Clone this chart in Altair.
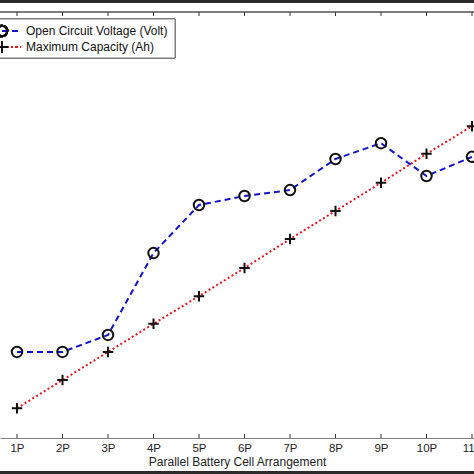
import altair as alt
import pandas as pd

# Categories (parallel cell arrangement)
arrangement = ["1P", "2P", "3P", "4P", "5P", "6P", "7P", "8P", "9P", "10P", "11P"]
# Values (normalised, no y axis visible in the crop)
open_circuit_voltage = [0.202, 0.202, 0.242, 0.434, 0.547, 0.568, 0.582, 0.655, 0.692, 0.615, 0.660]
maximum_capacity = [0.070, 0.136, 0.202, 0.268, 0.333, 0.399, 0.467, 0.533, 0.599, 0.667, 0.732]

idx = list(range(1, len(arrangement) + 1))
df_v = pd.DataFrame({"n": idx, "cat": arrangement, "value": open_circuit_voltage})
df_c = pd.DataFrame({"n": idx, "cat": arrangement, "value": maximum_capacity})
df_t = pd.DataFrame({"n": idx})

FONT = "Liberation Sans"
W, H = 474, 426

xscale = alt.Scale(domain=[1 - 17 / 45.5, 1 + 457 / 45.5], nice=False, zero=False)
yscale = alt.Scale(domain=[0, 1], nice=False, zero=False)

x_enc = alt.X("n:Q", scale=xscale,
              axis=alt.Axis(values=idx, labelExpr="datum.value + 'P'", ticks=False,
                            grid=False, domainColor="#7f7f7f", domainWidth=1,
                            labelFontSize=11.5, labelFont=FONT, labelColor="#222",
                            labelPadding=4, title="Parallel Battery Cell Arrangement",
                            titleFont=FONT, titleFontSize=12, titleFontWeight="normal",
                            titleColor="#222", titlePadding=3, labelFlush=False,
                            labelOverlap=False))
y_enc = alt.Y("value:Q", scale=yscale, axis=None)

line_v = alt.Chart(df_v).mark_line(color="#1212d0", strokeWidth=2, strokeDash=[6, 4], clip=False).encode(
    x=x_enc, y=y_enc)
line_c = alt.Chart(df_c).mark_line(color="#e8141e", strokeWidth=2, strokeDash=[2, 2.5], clip=False).encode(
    x=x_enc, y=y_enc)
pts_v = alt.Chart(df_v).mark_point(shape="circle", filled=False, color="#111", strokeWidth=2,
                                   size=110, opacity=1, clip=False).encode(x=x_enc, y=y_enc)
pts_c = alt.Chart(df_c).mark_point(shape="M-1,0H1M0,-1V1", filled=False, color="#111", strokeWidth=2,
                                   size=110, opacity=1, clip=False).encode(x=x_enc, y=y_enc)

# inward ticks (bottom and top) and top frame line
ticks_b = alt.Chart(df_t).mark_rule(color="#333", strokeWidth=1).encode(
    x=alt.X("n:Q", scale=xscale), y=alt.value(H), y2=alt.value(H - 4))
ticks_t = alt.Chart(df_t).mark_rule(color="#333", strokeWidth=1).encode(
    x=alt.X("n:Q", scale=xscale), y=alt.value(0), y2=alt.value(4))
top_line = alt.Chart(df_t).mark_rule(color="#7f7f7f", strokeWidth=1).encode(
    x=alt.value(0), x2=alt.value(W), y=alt.value(0))

# dark border bands of the original figure
band_top = alt.Chart(df_t).mark_rect(color="#2a2a2a", clip=False).encode(
    x=alt.value(0), x2=alt.value(W), y=alt.value(-12), y2=alt.value(-9))
band_bot = alt.Chart(df_t).mark_rect(color="#2a2a2a", clip=False).encode(
    x=alt.value(0), x2=alt.value(W), y=alt.value(H + 33), y2=alt.value(H + 36))

# legend
leg_box = alt.Chart(df_t).mark_rect(fill="white", stroke="#7f7f7f", strokeWidth=1).encode(
    x=alt.value(-5), x2=alt.value(175), y=alt.value(7), y2=alt.value(46))
leg_l1 = alt.Chart(df_t).mark_rule(color="#1212d0", strokeWidth=2, strokeDash=[6, 4]).encode(
    x=alt.value(2), x2=alt.value(21), y=alt.value(19))
leg_l2 = alt.Chart(df_t).mark_rule(color="#e8141e", strokeWidth=2, strokeDash=[2, 2.5]).encode(
    x=alt.value(2), x2=alt.value(21), y=alt.value(35))
leg_p1 = alt.Chart(df_t).mark_point(shape="circle", filled=False, color="#111", strokeWidth=2,
                                    size=110, opacity=1, clip=False).encode(x=alt.value(2), y=alt.value(19))
leg_p2 = alt.Chart(df_t).mark_point(shape="M-1,0H1M0,-1V1", filled=False, color="#111", strokeWidth=2,
                                    size=110, opacity=1, clip=False).encode(x=alt.value(2), y=alt.value(35))
leg_t1 = alt.Chart(pd.DataFrame({"t": ["Open Circuit Voltage (Volt)"]})).mark_text(
    align="left", baseline="middle", font=FONT, fontSize=12, color="#111").encode(
    x=alt.value(26), y=alt.value(19), text="t:N")
leg_t2 = alt.Chart(pd.DataFrame({"t": ["Maximum Capacity (Ah)"]})).mark_text(
    align="left", baseline="middle", font=FONT, fontSize=12, color="#111").encode(
    x=alt.value(26), y=alt.value(35), text="t:N")

chart = alt.layer(
    band_top, band_bot, top_line, ticks_b, ticks_t,
    line_c, line_v, pts_c, pts_v,
    leg_box, leg_l1, leg_l2, leg_p1, leg_p2, leg_t1, leg_t2,
).properties(
    width=W, height=H,
    autosize=alt.AutoSizeParams(type="none"),
    padding={"left": 0, "top": 12, "right": 0, "bottom": 36},
    background="white",
).configure_view(stroke=None)

chart.save("out.html", embed_options={"renderer": "svg", "actions": False})
